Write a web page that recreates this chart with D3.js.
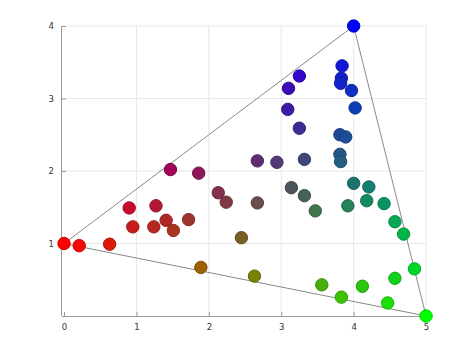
<!DOCTYPE html>
<html>
<head>
    <title>Barycentric colours</title>
    <script src="https://cdnjs.cloudflare.com/ajax/libs/d3/7.8.5/d3.min.js"></script>
    <style>
        html, body {
            margin: 0;
            padding: 0;
            background-color: white;
            font-family: 'DejaVu Sans', sans-serif;
        }
        .tick text {
            fill: #333;
            font-size: 8.5px;
        }
    </style>
</head>
<body>
    <div id="chart"></div>
    <script>
        // triangle corners: red, blue, green
        const cornerX = [0, 4, 5];
        const cornerY = [1, 4, 0];

        const pointX = [0, 0.21, 0.63, 0.90, 0.95, 1.27, 1.24, 1.41, 1.51, 1.72,
            1.89, 2.13, 2.24, 2.45, 1.47, 1.86,
            3.14, 3.32, 2.67, 3.47, 4.00, 4.21, 4.18, 3.92, 4.42, 4.57, 4.69,
            2.63, 3.56, 3.83, 4.12, 4.47, 4.57, 4.84, 5,
            4, 3.84, 3.83, 3.82, 3.97, 4.02, 3.25, 3.10, 3.09, 3.25,
            3.81, 3.89, 2.67, 2.94, 3.32, 3.81, 3.82];
        const pointY = [1, 0.97, 0.99, 1.49, 1.23, 1.52, 1.23, 1.32, 1.18, 1.33,
            0.67, 1.70, 1.57, 1.08, 2.02, 1.97,
            1.77, 1.66, 1.56, 1.45, 1.83, 1.78, 1.59, 1.52, 1.55, 1.30, 1.13,
            0.55, 0.43, 0.26, 0.41, 0.18, 0.52, 0.65, 0,
            4, 3.45, 3.28, 3.21, 3.11, 2.87, 3.31, 3.14, 2.85, 2.59,
            2.50, 2.47, 2.14, 2.12, 2.16, 2.23, 2.13];

        const xTicks = [0, 1, 2, 3, 4, 5];
        const yTicks = [1, 2, 3, 4];

        const width = 474, height = 355;
        const plotLeft = 62, plotRight = 427, plotTop = 26, plotBottom = 316;

        const x = d3.scaleLinear().domain([-0.028, 5.013]).range([plotLeft, plotRight]);
        const y = d3.scaleLinear().domain([0, 4]).range([plotBottom, plotTop]);

        const svg = d3.select("#chart").append("svg")
            .attr("width", width)
            .attr("height", height);

        // grid
        svg.append("g").selectAll("line")
            .data(xTicks.slice(1))
            .enter().append("line")
            .attr("x1", d => x(d)).attr("x2", d => x(d))
            .attr("y1", plotTop).attr("y2", plotBottom)
            .attr("stroke", "#e8e8e8");
        svg.append("g").selectAll("line")
            .data(yTicks)
            .enter().append("line")
            .attr("x1", plotLeft).attr("x2", plotRight)
            .attr("y1", d => y(d)).attr("y2", d => y(d))
            .attr("stroke", "#e8e8e8");

        // axes
        const xAxis = d3.axisBottom(x).tickValues(xTicks).tickFormat(d3.format("d"))
            .tickSizeInner(-4).tickSizeOuter(0).tickPadding(8);
        const gx = svg.append("g")
            .attr("transform", "translate(0," + plotBottom + ")")
            .call(xAxis);
        gx.select(".domain").attr("stroke", "#999").attr("d", "M" + plotLeft + ",0.5H" + plotRight);
        gx.selectAll(".tick line").attr("stroke", "#999");

        const yAxis = d3.axisLeft(y).tickValues(yTicks).tickFormat(d3.format("d"))
            .tickSizeInner(-4).tickSizeOuter(0).tickPadding(8);
        const gy = svg.append("g")
            .attr("transform", "translate(" + plotLeft + ",0)")
            .call(yAxis);
        gy.select(".domain").attr("stroke", "#999").attr("d", "M-0.5," + plotTop + "V" + plotBottom);
        gy.selectAll(".tick line").attr("stroke", "#999");
        svg.selectAll(".tick text").attr("font-family", "'DejaVu Sans', sans-serif");

        // triangle
        const tri = cornerX.map((cx, i) => [x(cx), y(cornerY[i])]);
        svg.append("path")
            .attr("d", d3.line()(tri) + "Z")
            .attr("fill", "none")
            .attr("stroke", "#888")
            .attr("stroke-width", 1);

        // barycentric colour of a point
        function colourOf(px, py) {
            const [x1, x2, x3] = cornerX, [y1, y2, y3] = cornerY;
            const det = (y2 - y3) * (x1 - x3) + (x3 - x2) * (y1 - y3);
            let a = ((y2 - y3) * (px - x3) + (x3 - x2) * (py - y3)) / det;
            let b = ((y3 - y1) * (px - x3) + (x1 - x3) * (py - y3)) / det;
            let c = 1 - a - b;
            a = Math.max(0, Math.min(1, a));
            b = Math.max(0, Math.min(1, b));
            c = Math.max(0, Math.min(1, c));
            // red, blue, green corners
            return d3.rgb(255 * a, 255 * c, 255 * b);
        }

        svg.append("g").selectAll("circle")
            .data(pointX.map((px, i) => [px, pointY[i]]))
            .enter().append("circle")
            .attr("cx", d => x(d[0]))
            .attr("cy", d => y(d[1]))
            .attr("r", 6.2)
            .attr("fill", d => colourOf(d[0], d[1]))
            .attr("stroke", d => colourOf(d[0], d[1]).darker(0.6))
            .attr("stroke-width", 1);
    </script>
</body>
</html>
